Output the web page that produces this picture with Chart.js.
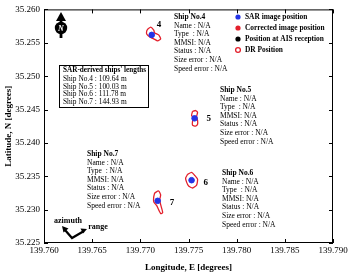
<!DOCTYPE html>
<html>
<head>
<meta charset="utf-8">
<script src="https://cdn.jsdelivr.net/npm/chart.js@4.4.1/dist/chart.umd.min.js"></script>
<style>
  html, body { margin: 0; padding: 0; background: #fff; }
  #wrap { width: 350px; height: 273px; }
</style>
</head>
<body>
<div id="wrap"><canvas id="chart" width="350" height="273"></canvas></div>
<script>
// Axis ranges and ticks
const lonTicks = [139.760, 139.765, 139.770, 139.775, 139.780, 139.785, 139.790];
const latTicks = [35.225, 35.230, 35.235, 35.240, 35.245, 35.250, 35.255, 35.260];

// Ship numbers and SAR image positions [lon, lat]
const shipNos = [4, 5, 6, 7];
const sarLon = [139.77118, 139.77563, 139.77532, 139.77180];
const sarLat = [35.25618, 35.24368, 35.23441, 35.23132];

// Corrected / AIS positions are not available (N/A)
const correctedPos = [];
const aisPos = [];

// DR position contours per ship, [lon, lat]
const drShip4 = [[139.77077,35.25706],[139.77108,35.25735],[139.77139,35.25691],[139.77149,35.25647],[139.77190,35.25618],[139.77211,35.25559],[139.77180,35.25529],[139.77139,35.25559],[139.77097,35.25588],[139.77066,35.25632],[139.77066,35.25676],[139.77077,35.25706]];
const drShip5 = [[139.77542,35.24471],[139.77573,35.24485],[139.77594,35.24456],[139.77584,35.24397],[139.77594,35.24338],[139.77594,35.24279],[139.77573,35.24250],[139.77542,35.24265],[139.77542,35.24324],[139.77553,35.24368],[139.77532,35.24412],[139.77542,35.24471]];
const drShip6 = [[139.77491,35.23529],[139.77532,35.23559],[139.77563,35.23515],[139.77594,35.23456],[139.77584,35.23368],[139.77542,35.23324],[139.77501,35.23353],[139.77480,35.23412],[139.77470,35.23471],[139.77491,35.23529]];
const drShip7 = [[139.77149,35.23250],[139.77190,35.23279],[139.77211,35.23221],[139.77201,35.23147],[139.77211,35.23074],[139.77232,35.22956],[139.77211,35.22941],[139.77170,35.23059],[139.77139,35.23118],[139.77139,35.23191],[139.77149,35.23250]];

// SAR-derived lengths
const shipLengths = ["109.64", "100.03", "111.78", "144.93"];

const legendLabels = ["SAR image position", "Corrected image position", "Position at AIS reception", "DR Position"];

const infoLines = ["Name : N/A", "Type  : N/A", "MMSI: N/A", "Status : N/A", "Size error : N/A", "Speed error : N/A"];

const RED = "#e3202c";
const BLUE = "#2433e6";
const SERIF = "'Liberation Serif', 'Times New Roman', serif";

function toXY(arr) {
    return arr.map(p => ({ x: p[0], y: p[1] }));
}

function contourSet(arr) {
    return {
        type: "line",
        data: toXY(arr),
        borderColor: RED,
        borderWidth: 1.3,
        pointRadius: 0,
        fill: false,
        tension: 0.2,
        order: 2
    };
}

// Draws frame, inward ticks, annotations, legend and arrows
const decorations = {
    id: "decorations",
    afterDatasetsDraw(chart) {
        const ctx = chart.ctx;
        const a = chart.chartArea;
        const xs = chart.scales.x, ys = chart.scales.y;
        ctx.save();

        // frame
        ctx.strokeStyle = "#000";
        ctx.lineWidth = 1;
        ctx.strokeRect(a.left + 0.5, a.top + 0.5, a.right - a.left - 1, a.bottom - a.top - 1);

        // inward ticks
        ctx.beginPath();
        lonTicks.forEach(v => {
            const px = Math.round(xs.getPixelForValue(v)) + 0.5;
            ctx.moveTo(px, a.bottom); ctx.lineTo(px, a.bottom - 4);
            ctx.moveTo(px, a.top); ctx.lineTo(px, a.top + 4);
        });
        latTicks.forEach(v => {
            const py = Math.round(ys.getPixelForValue(v)) + 0.5;
            ctx.moveTo(a.left, py); ctx.lineTo(a.left + 4, py);
            ctx.moveTo(a.right, py); ctx.lineTo(a.right - 4, py);
        });
        ctx.stroke();

        // ship number labels next to markers
        ctx.fillStyle = "#000";
        ctx.font = "bold 9px " + SERIF;
        ctx.textBaseline = "middle";
        ctx.textAlign = "left";
        const numOff = [[5, 10], [12, 0], [12, -2], [12, -2]];
        shipNos.forEach((n, i) => {
            const px = xs.getPixelForValue(sarLon[i]) + numOff[i][0];
            const py = ys.getPixelForValue(sarLat[i]) - numOff[i][1];
            ctx.fillText(String(n), px, py);
        });

        // ship info blocks
        const blocks = [
            { no: 4, x: 174, y: 17 },
            { no: 5, x: 220, y: 90 },
            { no: 6, x: 222, y: 173 },
            { no: 7, x: 87, y: 154 }
        ];
        blocks.forEach(b => {
            ctx.font = "bold 7.5px " + SERIF;
            ctx.fillText("Ship No." + b.no, b.x, b.y);
            ctx.font = "7.5px " + SERIF;
            infoLines.forEach((t, k) => ctx.fillText(t, b.x, b.y + 8.6 * (k + 1)));
        });

        // lengths box
        ctx.strokeRect(59.5, 65.5, 89, 42);
        ctx.font = "bold 7.2px " + SERIF;
        ctx.fillText("SAR-derived ships' lengths", 63, 70.5);
        ctx.font = "7.4px " + SERIF;
        shipNos.forEach((n, i) => ctx.fillText("Ship No." + n + " : " + shipLengths[i] + " m", 63, 79 + 7.7 * i));

        // legend
        const lx = 238, ly = 17, step = 11;
        const lColors = [BLUE, RED, "#000"];
        legendLabels.forEach((t, i) => {
            const y = ly + step * i;
            ctx.beginPath();
            if (i < 3) {
                ctx.fillStyle = lColors[i];
                ctx.arc(lx, y, 2.6, 0, Math.PI * 2);
                ctx.fill();
            } else {
                ctx.strokeStyle = RED;
                ctx.lineWidth = 1.3;
                ctx.arc(lx, y, 2.4, 0, Math.PI * 2);
                ctx.stroke();
            }
            ctx.fillStyle = "#000";
            ctx.font = "bold 7.4px " + SERIF;
            ctx.fillText(t, lx + 7, y);
        });

        // north arrow
        ctx.strokeStyle = "#000";
        ctx.fillStyle = "#000";
        ctx.lineWidth = 2.8;
        ctx.beginPath();
        ctx.moveTo(61, 20); ctx.lineTo(61, 38);
        ctx.stroke();
        ctx.beginPath();
        ctx.moveTo(61, 12); ctx.lineTo(56, 21); ctx.lineTo(66, 21); ctx.closePath();
        ctx.fill();
        ctx.beginPath();
        ctx.arc(61, 28, 6.2, 0, Math.PI * 2);
        ctx.fill();
        ctx.fillStyle = "#fff";
        ctx.font = "italic bold 8px " + SERIF;
        ctx.textAlign = "center";
        ctx.fillText("N", 61, 28.5);

        // azimuth / range arrows
        ctx.fillStyle = "#000";
        ctx.strokeStyle = "#000";
        ctx.lineWidth = 2.2;
        ctx.beginPath();
        ctx.moveTo(65, 230); ctx.lineTo(72, 238); ctx.lineTo(84, 231);
        ctx.stroke();
        ctx.beginPath();
        ctx.moveTo(62, 226); ctx.lineTo(68.5, 228.5); ctx.lineTo(63.5, 232.5); ctx.closePath();
        ctx.fill();
        ctx.beginPath();
        ctx.moveTo(87, 229); ctx.lineTo(80.5, 228.5); ctx.lineTo(83, 233.5); ctx.closePath();
        ctx.fill();
        ctx.font = "bold 8px " + SERIF;
        ctx.textAlign = "center";
        ctx.fillText("azimuth", 68, 221);
        ctx.fillText("range", 98, 227);

        ctx.restore();
    }
};

new Chart(document.getElementById("chart").getContext("2d"), {
    type: "scatter",
    data: {
        datasets: [
            contourSet(drShip4),
            contourSet(drShip5),
            contourSet(drShip6),
            contourSet(drShip7),
            {
                data: sarLon.map((x, i) => ({ x: x, y: sarLat[i] })),
                backgroundColor: BLUE,
                borderColor: BLUE,
                pointRadius: 2.8,
                order: 1
            },
            { data: correctedPos, backgroundColor: RED, pointRadius: 2.8 },
            { data: aisPos, backgroundColor: "#000", pointRadius: 2.8 }
        ]
    },
    options: {
        responsive: false,
        animation: false,
        events: [],
        layout: { padding: { top: 5, right: 17, left: 3, bottom: 0 } },
        plugins: { legend: { display: false }, tooltip: { enabled: false } },
        scales: {
            x: {
                type: "linear",
                min: 139.760,
                max: 139.790,
                afterBuildTicks: s => { s.ticks = lonTicks.map(v => ({ value: v })); },
                afterFit: s => { s.height = 30; },
                ticks: {
                    callback: v => v.toFixed(3),
                    color: "#000",
                    font: { family: SERIF, size: 9 },
                    padding: 2,
                    maxRotation: 0
                },
                grid: { display: false, drawTicks: false },
                border: { display: false },
                title: {
                    display: true,
                    text: "Longitude, E [degrees]",
                    color: "#000",
                    font: { family: SERIF, size: 9, weight: "bold" },
                    padding: { top: 1, bottom: 0 }
                }
            },
            y: {
                type: "linear",
                min: 35.225,
                max: 35.260,
                afterBuildTicks: s => { s.ticks = latTicks.map(v => ({ value: v })); },
                afterFit: s => { s.width = 41; },
                ticks: {
                    callback: v => v.toFixed(3),
                    color: "#000",
                    font: { family: SERIF, size: 9 },
                    padding: 4
                },
                grid: { display: false, drawTicks: false },
                border: { display: false },
                title: {
                    display: true,
                    text: "Latitude, N [degrees]",
                    color: "#000",
                    font: { family: SERIF, size: 9, weight: "bold" },
                    padding: { top: 0, bottom: 1 }
                }
            }
        }
    },
    plugins: [decorations]
});
</script>
</body>
</html>
